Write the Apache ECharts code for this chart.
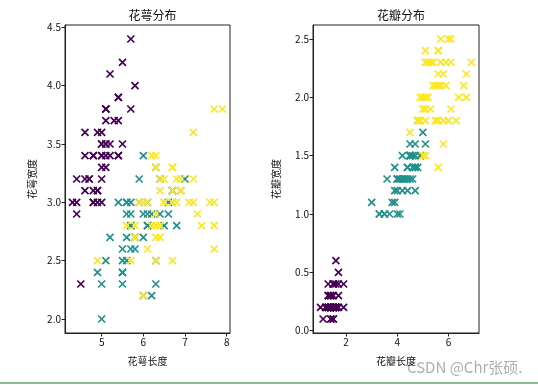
<!DOCTYPE html>
<html><head><meta charset="utf-8">
<script src="https://cdn.jsdelivr.net/npm/echarts@6/dist/echarts.min.js"></script>
<style>html,body{margin:0;padding:0;background:#fff}#c{width:538px;height:385px}</style>
</head><body><div id="c"></div>
<script>
// Iris rows: [sepal length, sepal width, petal length, petal width]
const setosa = [[5.1,3.5,1.4,0.2],[4.9,3.0,1.4,0.2],[4.7,3.2,1.3,0.2],[4.6,3.1,1.5,0.2],[5.0,3.6,1.4,0.2],[5.4,3.9,1.7,0.4],[4.6,3.4,1.4,0.3],[5.0,3.4,1.5,0.2],[4.4,2.9,1.4,0.2],[4.9,3.1,1.5,0.1],[5.4,3.7,1.5,0.2],[4.8,3.4,1.6,0.2],[4.8,3.0,1.4,0.1],[4.3,3.0,1.1,0.1],[5.8,4.0,1.2,0.2],[5.7,4.4,1.5,0.4],[5.4,3.9,1.3,0.4],[5.1,3.5,1.4,0.3],[5.7,3.8,1.7,0.3],[5.1,3.8,1.5,0.3],[5.4,3.4,1.7,0.2],[5.1,3.7,1.5,0.4],[4.6,3.6,1.0,0.2],[5.1,3.3,1.7,0.5],[4.8,3.4,1.9,0.2],[5.0,3.0,1.6,0.2],[5.0,3.4,1.6,0.4],[5.2,3.5,1.5,0.2],[5.2,3.4,1.4,0.2],[4.7,3.2,1.6,0.2],[4.8,3.1,1.6,0.2],[5.4,3.4,1.5,0.4],[5.2,4.1,1.5,0.1],[5.5,4.2,1.4,0.2],[4.9,3.1,1.5,0.2],[5.0,3.2,1.2,0.2],[5.5,3.5,1.3,0.2],[4.9,3.6,1.4,0.1],[4.4,3.0,1.3,0.2],[5.1,3.4,1.5,0.2],[5.0,3.5,1.3,0.3],[4.5,2.3,1.3,0.3],[4.4,3.2,1.3,0.2],[5.0,3.5,1.6,0.6],[5.1,3.8,1.9,0.4],[4.8,3.0,1.4,0.3],[5.1,3.8,1.6,0.2],[4.6,3.2,1.4,0.2],[5.3,3.7,1.5,0.2],[5.0,3.3,1.4,0.2]];
const versicolor = [[7.0,3.2,4.7,1.4],[6.4,3.2,4.5,1.5],[6.9,3.1,4.9,1.5],[5.5,2.3,4.0,1.3],[6.5,2.8,4.6,1.5],[5.7,2.8,4.5,1.3],[6.3,3.3,4.7,1.6],[4.9,2.4,3.3,1.0],[6.6,2.9,4.6,1.3],[5.2,2.7,3.9,1.4],[5.0,2.0,3.5,1.0],[5.9,3.0,4.2,1.5],[6.0,2.2,4.0,1.0],[6.1,2.9,4.7,1.4],[5.6,2.9,3.6,1.3],[6.7,3.1,4.4,1.4],[5.6,3.0,4.5,1.5],[5.8,2.7,4.1,1.0],[6.2,2.2,4.5,1.5],[5.6,2.5,3.9,1.1],[5.9,3.2,4.8,1.8],[6.1,2.8,4.0,1.3],[6.3,2.5,4.9,1.5],[6.1,2.8,4.7,1.2],[6.4,2.9,4.3,1.3],[6.6,3.0,4.4,1.4],[6.8,2.8,4.8,1.4],[6.7,3.0,5.0,1.7],[6.0,2.9,4.5,1.5],[5.7,2.6,3.5,1.0],[5.5,2.4,3.8,1.1],[5.5,2.4,3.7,1.0],[5.8,2.7,3.9,1.2],[6.0,2.7,5.1,1.6],[5.4,3.0,4.5,1.5],[6.0,3.4,4.5,1.6],[6.7,3.1,4.7,1.5],[6.3,2.3,4.4,1.3],[5.6,3.0,4.1,1.3],[5.5,2.5,4.0,1.3],[5.5,2.6,4.4,1.2],[6.1,3.0,4.6,1.4],[5.8,2.6,4.0,1.2],[5.0,2.3,3.3,1.0],[5.6,2.7,4.2,1.3],[5.7,3.0,4.2,1.2],[5.7,2.9,4.2,1.3],[6.2,2.9,4.3,1.3],[5.1,2.5,3.0,1.1],[5.7,2.8,4.1,1.3]];
const virginica = [[6.3,3.3,6.0,2.5],[5.8,2.7,5.1,1.9],[7.1,3.0,5.9,2.1],[6.3,2.9,5.6,1.8],[6.5,3.0,5.8,2.2],[7.6,3.0,6.6,2.1],[4.9,2.5,4.5,1.7],[7.3,2.9,6.3,1.8],[6.7,2.5,5.8,1.8],[7.2,3.6,6.1,2.5],[6.5,3.2,5.1,2.0],[6.4,2.7,5.3,1.9],[6.8,3.0,5.5,2.1],[5.7,2.5,5.0,2.0],[5.8,2.8,5.1,2.4],[6.4,3.2,5.3,2.3],[6.5,3.0,5.5,1.8],[7.7,3.8,6.7,2.2],[7.7,2.6,6.9,2.3],[6.0,2.2,5.0,1.5],[6.9,3.2,5.7,2.3],[5.6,2.8,4.9,2.0],[7.7,2.8,6.7,2.0],[6.3,2.7,4.9,1.8],[6.7,3.3,5.7,2.1],[7.2,3.2,6.0,1.8],[6.2,2.8,4.8,1.8],[6.1,3.0,4.9,1.8],[6.4,2.8,5.6,2.1],[7.2,3.0,5.8,1.6],[7.4,2.8,6.1,1.9],[7.9,3.8,6.4,2.0],[6.4,2.8,5.6,2.2],[6.3,2.8,5.1,1.5],[6.1,2.6,5.6,1.4],[7.7,3.0,6.1,2.3],[6.3,3.4,5.6,2.4],[6.4,3.1,5.5,1.8],[6.0,3.0,4.8,1.8],[6.9,3.1,5.4,2.1],[6.7,3.1,5.6,2.4],[6.9,3.1,5.1,2.3],[5.8,2.7,5.1,1.9],[6.8,3.2,5.9,2.3],[6.7,3.3,5.7,2.5],[6.7,3.0,5.2,2.3],[6.3,2.5,5.0,1.9],[6.5,3.0,5.2,2.0],[6.2,3.4,5.4,2.3],[5.9,3.0,5.1,1.8]];
const classes = [setosa, versicolor, virginica];
const classColors = ['#440154', '#21918c', '#fde725'];
const titles = ['花萼分布', '花瓣分布'];
const xNames = ['花萼长度', '花瓣长度'];
const yNames = ['花萼宽度', '花瓣宽度'];
const sepalXTicks = [5, 6, 7, 8];
const sepalYTicks = [2.0, 2.5, 3.0, 3.5, 4.0, 4.5];
const petalXTicks = [2, 4, 6];
const petalYTicks = [0.0, 0.5, 1.0, 1.5, 2.0, 2.5];
const watermark = 'CSDN @Chr张硕.';

const FONT = '"Noto Sans CJK SC", "DejaVu Sans", sans-serif';
const X_SYMBOL = 'path://M0,0L10,10M0,10L10,0';

function axisCommon(ticks, fmt) {
  return {
    axisLine: { show: true, onZero: false, lineStyle: { color: '#222', width: 1 } },
    axisTick: { show: true, inside: false, length: 3.5, lineStyle: { color: '#222' }, customValues: ticks },
    axisLabel: { show: true, color: '#111', fontSize: 10, fontFamily: FONT, margin: 4, customValues: ticks, formatter: fmt },
    splitLine: { show: false },
    nameTextStyle: { color: '#111', fontSize: 10, fontFamily: FONT }
  };
}
function range(vals) {
  const mn = Math.min(...vals), mx = Math.max(...vals);
  const m = (mx - mn) * 0.05;
  return [mn - m, mx + m];
}
const all = setosa.concat(versicolor, virginica);
const r = [0,1,2,3].map(i => range(all.map(d => d[i])));

const grids = [
  { left: 65, top: 25, width: 165, height: 308, show: true, borderColor: '#222', borderWidth: 1, backgroundColor: '#fff' },
  { left: 313, top: 25, width: 166, height: 308, show: true, borderColor: '#222', borderWidth: 1, backgroundColor: '#fff' }
];
const xAxes = [
  Object.assign(axisCommon(sepalXTicks, v => String(Math.round(v))), { type: 'value', gridIndex: 0, min: r[0][0], max: r[0][1], name: xNames[0], nameLocation: 'middle', nameGap: 23 }),
  Object.assign(axisCommon(petalXTicks, v => String(Math.round(v))), { type: 'value', gridIndex: 1, min: r[2][0], max: r[2][1], name: xNames[1], nameLocation: 'middle', nameGap: 23 })
];
const yAxes = [
  Object.assign(axisCommon(sepalYTicks, v => v.toFixed(1)), { type: 'value', gridIndex: 0, min: r[1][0], max: r[1][1], name: yNames[0], nameLocation: 'middle', nameGap: 28 }),
  Object.assign(axisCommon(petalYTicks, v => v.toFixed(1)), { type: 'value', gridIndex: 1, min: r[3][0], max: r[3][1], name: yNames[1], nameLocation: 'middle', nameGap: 32 })
];
const series = [];
[[0, 1], [2, 3]].forEach((cols, gi) => {
  classes.forEach((rows, ci) => {
    series.push({
      type: 'scatter', xAxisIndex: gi, yAxisIndex: gi,
      data: rows.map(d => [d[cols[0]], d[cols[1]]]),
      symbol: X_SYMBOL, symbolSize: 7,
      itemStyle: { color: 'rgba(0,0,0,0)', borderColor: classColors[ci], borderWidth: 1.7, opacity: 1 },
      emphasis: { disabled: true },
      silent: true
    });
  });
});

const chart = echarts.init(document.getElementById('c'), null, { renderer: 'canvas' });
chart.setOption({
  animation: false,
  backgroundColor: '#fff',
  title: [
    { text: titles[0], left: 147.5, top: 4, textAlign: 'center', textStyle: { fontSize: 12, fontWeight: 'normal', color: '#111', fontFamily: FONT } },
    { text: titles[1], left: 396, top: 4, textAlign: 'center', textStyle: { fontSize: 12, fontWeight: 'normal', color: '#111', fontFamily: FONT } }
  ],
  grid: grids, xAxis: xAxes, yAxis: yAxes, series: series,
  graphic: [
    { type: 'text', left: 407, top: 360, style: { text: watermark, fill: 'rgba(140,140,140,0.7)', fontSize: 15, fontFamily: FONT } },
    { type: 'rect', left: 0, top: 382, shape: { width: 538, height: 2 }, style: { fill: '#8fbf8f' } }
  ]
});
</script></body></html>
